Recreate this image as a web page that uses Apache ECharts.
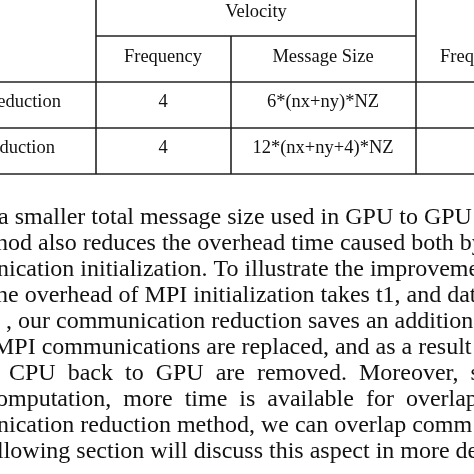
<!DOCTYPE html>
<html>
<head>
<meta charset="utf-8">
<script src="https://cdn.jsdelivr.net/npm/echarts@6/dist/echarts.min.js"></script>
<style>html,body{margin:0;padding:0;background:#fff}#grafico{width:474px;height:474px}</style>
</head>
<body>
<div id="grafico"></div>
<script>
const grupoCabecera = "Velocity";
const columnas = ["Frequency", "Message Size", "Freq"];
const filas = ["eduction", "duction"];
const frecuencias = ["4", "4"];
const tamanos = ["6*(nx+ny)*NZ", "12*(nx+ny+4)*NZ"];
const lineasTexto = [
    "a smaller total message size used in GPU to GPU",
    "hod also reduces the overhead time caused both by",
    "nication initialization. To illustrate the improvement",
    "he overhead of MPI initialization takes t1, and data",
    ", our communication reduction saves an additional",
    "MPI communications are replaced, and as a result",
    "CPU  back  to  GPU  are  removed.  Moreover,  since",
    "omputation,  more  time  is  available  for  overlapping",
    "nication reduction method, we can overlap comm",
    "llowing section will discuss this aspect in more detail"
];
const inicioTexto = [-2, -4, -3, -4, 6, -7, 9, -4, -3, -3];

const fuenteTabla = '18.5px "Liberation Serif"';
const fuenteTexto = '24px "Liberation Serif"';
const elementos = [];

function linea(x1, y1, x2, y2) {
    elementos.push({ type: "line", shape: { x1, y1, x2, y2 }, style: { stroke: "#222", lineWidth: 1.6 } });
}
function texto(t, x, y, align, font) {
    elementos.push({ type: "text", x, y, style: { text: t, font, fill: "#111", align, verticalAlign: "middle" } });
}

// tabla
linea(96, 0, 96, 174);
linea(231, 36, 231, 174);
linea(416, 0, 416, 174);
linea(96, 36, 416, 36);
linea(0, 82, 474, 82);
linea(0, 128, 474, 128);
linea(0, 174, 474, 174);

texto(grupoCabecera, 256, 12, "center", fuenteTabla);
texto(columnas[0], 163, 57, "center", fuenteTabla);
texto(columnas[1], 323, 57, "center", fuenteTabla);
texto(columnas[2], 440, 57, "left", fuenteTabla);
filas.forEach((f, i) => {
    const y = 102 + i * 46;
    texto(f, 61 - (i === 1 ? 6 : 0), y, "right", fuenteTabla);
    texto(frecuencias[i], 163, y, "center", fuenteTabla);
    texto(tamanos[i], 323, y, "center", fuenteTabla);
});

// parrafo
lineasTexto.forEach((t, i) => {
    texto(t, inicioTexto[i], 218 + i * 26, "left", fuenteTexto);
});

const miGrafico = echarts.init(document.getElementById("grafico"));
miGrafico.setOption({ animation: false, graphic: { elements: elementos } });
</script>
</body>
</html>
